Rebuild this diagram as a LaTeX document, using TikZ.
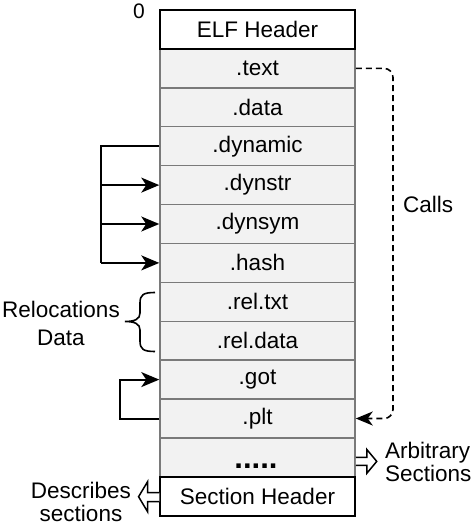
\documentclass[tikz,border=0pt]{standalone}
\usepackage{fontspec}
\setmainfont{Liberation Sans}
\usetikzlibrary{arrows.meta}
\definecolor{rowfill}{HTML}{F2F2F2}
\definecolor{rowline}{HTML}{7A7A7A}
\begin{document}
\begin{tikzpicture}[x=1pt,y=-1pt,
  rowbox/.style={draw=rowline, line width=1.5pt, fill=rowfill, minimum width=195pt, minimum height=38.9pt, inner sep=0pt, font=\fontsize{22.5}{26}\selectfont},
  headbox/.style={rowbox, draw=black, fill=white},
  lbl/.style={inner sep=0pt, font=\fontsize{22.5}{26}\selectfont},
  conn/.style={line width=2pt, black},
  arr/.style={conn, -{Stealth[length=18pt,width=15pt,inset=5pt]}},
  callarr/.style={line width=1.6pt, dash pattern=on 6pt off 4pt, rounded corners=9pt, -{Stealth[length=17pt,width=14pt,inset=5pt]}},
  blockarrow/.style={draw=black, fill=white, line width=1.5pt, line join=miter}
]
\useasboundingbox (0,0) rectangle (474,526);
% rows
\node[rowbox] (text)    at (257.5,68.4)  {.text};
\node[rowbox] (data)    at (257.5,107.3) {.data};
\node[rowbox] (dynamic) at (257.5,146.2) {.dynamic};
\node[rowbox] (dynstr)  at (257.5,185.1) {.dynstr};
\node[rowbox] (dynsym)  at (257.5,224.0) {.dynsym};
\node[rowbox] (hash)    at (257.5,262.9) {.hash};
\node[rowbox] (reltxt)  at (257.5,301.8) {.rel.txt};
\node[rowbox] (reldata) at (257.5,340.7) {.rel.data};
\node[rowbox] (got)     at (257.5,379.6) {.got};
\node[rowbox] (plt)     at (257.5,418.5) {.plt};
\node[rowbox] (dots)    at (257.5,457.4) {};
\node[lbl, anchor=base, font=\bfseries\fontsize{31}{31}\selectfont] (dotstext) at (256,468.5) {.....};
\node[headbox] (elf) at (257.5,29.5)  {ELF Header};
\node[headbox] (sh)  at (257.5,496.3) {Section Header};
% zero label
\node[lbl, anchor=base, font=\fontsize{21}{24}\selectfont] (zero) at (139,18.5) {0};
% dynamic links
\coordinate (dl) at (101,146.2);
\draw[conn] (dynamic.west) -- (dl) -- (dl |- hash.west);
\draw[arr] (dl |- dynstr.west) -- (dynstr.west);
\draw[arr] (dl |- dynsym.west) -- (dynsym.west);
\draw[arr] (dl |- hash.west) -- (hash.west);
% got / plt loop
\coordinate (gl) at (120,418.5);
\draw[arr] (plt.west) -- (gl) |- (got.west);
% calls
\coordinate (cr) at (393,68.4);
\draw[callarr] (text.east) -- (cr) -- (cr |- plt.east) -- (plt.east);
\node[lbl, anchor=base west] (calls) at (403,213) {Calls};
% relocations brace
\draw[line width=1.6pt] (155,292.5) .. controls (143,292.5) and (140,295) .. (140,303)
  -- (140,313) .. controls (140,319) and (135,321.5) .. (125,321.5)
  .. controls (135,321.5) and (140,324) .. (140,330)
  -- (140,341) .. controls (140,349) and (143,351.5) .. (155,351.5);
\node[lbl, align=center, font=\fontsize{22.5}{28}\selectfont] (reloc) at (61,323.5) {Relocations\\Data};
% arbitrary sections
\draw[blockarrow, shift={(dots.east)}] (0,0) -- (11,0) -- (11,-8) -- (21,4) -- (11,16) -- (11,8) -- (0,8);
\node[lbl, align=left, anchor=west, font=\fontsize{22.5}{23.5}\selectfont] (arb) at (385,462) {Arbitrary\\Sections};
% describes sections
\draw[blockarrow, shift={(sh.west)}] (0,-3.6) -- (-11.7,-3.6) -- (-11.7,-14.6) -- (-20.7,0.4) -- (-11.7,15.4) -- (-11.7,5.4) -- (0,5.4);
\node[lbl, align=center, font=\fontsize{22.5}{23}\selectfont] (desc) at (81,501.5) {Describes\\sections};
\end{tikzpicture}
\end{document}
